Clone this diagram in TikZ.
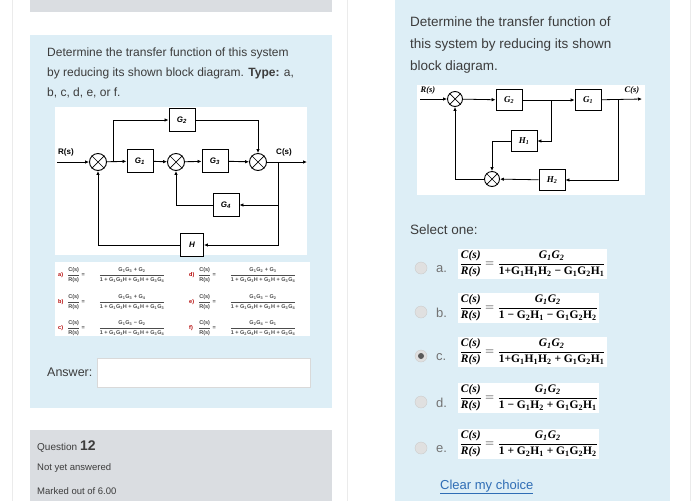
\documentclass[tikz,border=0pt]{standalone}
\usepackage{fontspec}
\setmainfont{Liberation Sans}
\newfontfamily\serf{Liberation Serif}
\usetikzlibrary{arrows.meta}
\definecolor{bluebg}{HTML}{DDEEF6}
\definecolor{graybg}{HTML}{DADDE1}
\definecolor{txt}{HTML}{3C3C3C}
\definecolor{lnk}{HTML}{2F6DB5}
\begin{document}
\begin{tikzpicture}[x=1pt,y=-1pt,
  blk/.style={draw,line width=0.9pt,fill=white,minimum width=26pt,minimum height=23pt,inner sep=0pt,font=\fontsize{8}{8}\selectfont\bfseries\itshape},
  rblk/.style={draw,line width=0.8pt,fill=white,minimum width=26pt,minimum height=21pt,inner sep=0pt,font=\fontsize{9}{9}\selectfont\serf\bfseries\itshape},
  sumj/.style={draw,circle,line width=0.9pt,fill=white,minimum size=#1,inner sep=0pt},
  con/.style={line width=0.9pt,-{Latex[length=4pt,width=3.5pt]}},
  ui/.style={text=txt,anchor=west,inner sep=0pt},
  fr/.style={fill=white,inner sep=1pt,font=\fontsize{5.5}{6}\selectfont\bfseries,text=black!70},
  rf/.style={fill=white,inner sep=1.5pt,anchor=west},
  radio/.style={circle,fill=black!12,draw=black!20,minimum size=12pt,inner sep=0pt}]
\useasboundingbox (0,0) rectangle (700,501);
\fill[white] (0,0) rectangle (700,501);
% left column
\draw[black!8] (12,0)--(12,501) (347,0)--(347,501) (690,0)--(690,501);
\fill[graybg] (30,0) rectangle (332,12);
\fill[bluebg] (30,35) rectangle (332,408);
\fill[graybg] (30,430) rectangle (332,501);
\node[ui,font=\fontsize{12}{14}\selectfont] (t1) at (47,53) {Determine the transfer function of this system};
\node[ui,font=\fontsize{12}{14}\selectfont] (t2) at (47,73) {by reducing its shown block diagram. \textbf{Type:} a,};
\node[ui,font=\fontsize{12}{14}\selectfont] (t3) at (47,93) {b, c, d, e, or f.};
\fill[white] (55,107) rectangle (307,255);
% left diagram
\node[sumj=17pt] (s1) at (98,162) {};
\node[sumj=17pt] (s2) at (176,162) {};
\node[sumj=17pt] (s3) at (258,162) {};
\foreach \s in {s1,s2,s3}{\draw[line width=0.7pt] (\s.north east)--(\s.south west) (\s.north west)--(\s.south east);}
\node[blk] (g1) at (140,161) {G\textsubscript{1}};
\node[blk] (g2) at (182,120) {G\textsubscript{2}};
\node[blk] (g3) at (215,161) {G\textsubscript{3}};
\node[blk] (g4) at (226,205) {G\textsubscript{4}};
\node[blk,minimum width=23pt] (h) at (192,245) {H};
\coordinate (rin) at (57,162);
\coordinate (cout) at (307,162);
\coordinate (b1) at (113,162);
\coordinate (b2) at (278,162);
\node[font=\fontsize{8}{8}\selectfont\bfseries] (rl) at (66,152) {R(s)};
\node[font=\fontsize{8}{8}\selectfont\bfseries] (cl) at (284,152) {C(s)};
\draw[con] (rin)--(s1);
\draw[con] (s1)--(g1);
\draw[con] (g1)--(s2);
\draw[con] (s2)--(g3);
\draw[con] (g3)--(s3);
\draw[con] (s3)--(cout);
\draw[con] (b1)|-(g2);
\draw[con] (g2)-|(s3);
\draw[con] (b2)|-(g4);
\draw[con] (g4)-|(s2);
\draw[con] (b2)|-(h);
\draw[con] (h)-|(s1);
% formulas
\fill[white] (55,262) rectangle (310,336);
\foreach \lab/\x/\y/\num/\den in {
 a/57/275/{G\textsubscript{1}G\textsubscript{3} + G\textsubscript{2}}/{1 + G\textsubscript{1}G\textsubscript{3}H + G\textsubscript{2}H + G\textsubscript{3}G\textsubscript{4}},
 b/57/302/{G\textsubscript{1}G\textsubscript{3} + G\textsubscript{4}}/{1 + G\textsubscript{1}G\textsubscript{3}H + G\textsubscript{4}H + G\textsubscript{1}G\textsubscript{3}},
 c/57/328/{G\textsubscript{1}G\textsubscript{3} − G\textsubscript{2}}/{1 + G\textsubscript{1}G\textsubscript{3}H − G\textsubscript{2}H + G\textsubscript{3}G\textsubscript{4}},
 d/188/275/{G\textsubscript{1}G\textsubscript{2} + G\textsubscript{3}}/{1 + G\textsubscript{1}G\textsubscript{3}H + G\textsubscript{2}H + G\textsubscript{3}G\textsubscript{4}},
 e/188/302/{G\textsubscript{1}G\textsubscript{3} − G\textsubscript{2}}/{1 + G\textsubscript{1}G\textsubscript{3}H + G\textsubscript{2}H + G\textsubscript{3}G\textsubscript{4}},
 f/188/328/{G\textsubscript{2}G\textsubscript{4} − G\textsubscript{1}}/{1 + G\textsubscript{2}G\textsubscript{4}H − G\textsubscript{1}H + G\textsubscript{3}G\textsubscript{4}}}{
 \node[fr,text=red!70!black,anchor=west] (la\lab) at (\x,\y) {\lab)};
 \node[fr] (fa\lab) at (\x+19,\y) {$\displaystyle\frac{\mbox{C(s)}}{\mbox{R(s)}}$ =};
 \node[fr] (fb\lab) at (\x+75,\y) {$\displaystyle\frac{\mbox{\,\num\,}}{\mbox{\den}}$};
}
\node[ui,font=\fontsize{12.5}{14}\selectfont] (ans) at (47,372) {Answer:};
\draw[black!15,fill=white] (97,358) rectangle (310,387);
\node[ui,font=\fontsize{10}{12}\selectfont] (q1) at (37,447) {Question {\fontsize{14}{14}\selectfont\bfseries 12}};
\node[ui,font=\fontsize{9.5}{12}\selectfont] (q2) at (37,468) {Not yet answered};
\node[ui,font=\fontsize{9.5}{12}\selectfont] (q3) at (37,491) {Marked out of 6.00};
% right column
\fill[bluebg] (395,0) rectangle (670,501);
\node[ui,font=\fontsize{13.5}{16}\selectfont] (r1) at (410,22) {Determine the transfer function of};
\node[ui,font=\fontsize{13.5}{16}\selectfont] (r2) at (410,45) {this system by reducing its shown};
\node[ui,font=\fontsize{13.5}{16}\selectfont] (r3) at (410,67) {block diagram.};
\fill[white] (417,85) rectangle (645,195);
\node[sumj=15pt] (q1s) at (455,99) {};
\node[sumj=15pt] (q2s) at (492,179) {};
\foreach \s in {q1s,q2s}{\draw[line width=0.7pt] (\s.north east)--(\s.south west) (\s.north west)--(\s.south east);}
\node[rblk] (rg2) at (509,100) {G\textsubscript{2}};
\node[rblk] (rg1) at (588,100) {G\textsubscript{1}};
\node[rblk] (rh1) at (524,141) {H\textsubscript{1}};
\node[rblk] (rh2) at (552,180) {H\textsubscript{2}};
\coordinate (rrin) at (420,99);
\coordinate (rout) at (642,99);
\coordinate (rb1) at (551,100);
\coordinate (rb2) at (618,100);
\node[font=\fontsize{8.5}{8}\selectfont\serf\bfseries\itshape] (rrl) at (428,90) {R(s)};
\node[font=\fontsize{8.5}{8}\selectfont\serf\bfseries\itshape] (rcl) at (632,90) {C(s)};
\draw[con,line width=0.8pt] (rrin)--(q1s);
\draw[con,line width=0.8pt] (q1s)--(rg2);
\draw[con,line width=0.8pt] (rg2)--(rg1);
\draw[con,line width=0.8pt] (rg1)--(rout);
\draw[con,line width=0.8pt] (rb1)|-(rh1);
\draw[con,line width=0.8pt] (rh1)-|(q2s);
\draw[con,line width=0.8pt] (rb2)|-(rh2);
\draw[con,line width=0.8pt] (rh2)--(q2s);
\draw[con,line width=0.8pt] (q2s)-|(q1s);
\node[ui,font=\fontsize{13.5}{16}\selectfont] (sel) at (410,230) {Select one:};
\foreach \lab/\y/\den in {
 a/264/{1+G\textsubscript{1}H\textsubscript{1}H\textsubscript{2} − G\textsubscript{1}G\textsubscript{2}H\textsubscript{1}},
 b/308/{1 − G\textsubscript{2}H\textsubscript{1} − G\textsubscript{1}G\textsubscript{2}H\textsubscript{2}},
 c/352/{1+G\textsubscript{1}H\textsubscript{1}H\textsubscript{2} + G\textsubscript{1}G\textsubscript{2}H\textsubscript{1}},
 d/398/{1 − G\textsubscript{1}H\textsubscript{2} + G\textsubscript{1}G\textsubscript{2}H\textsubscript{1}},
 e/444/{1 + G\textsubscript{2}H\textsubscript{1} + G\textsubscript{1}G\textsubscript{2}H\textsubscript{2}}}{
 \node[radio] (rad\lab) at (421,\y+4) {};
 \node[ui,font=\fontsize{13}{14}\selectfont,text=black!55] (let\lab) at (436,\y+5) {\lab.};
 \node[rf,font=\fontsize{11.5}{13}\selectfont\serf\bfseries] (opt\lab) at (458,\y) {$\displaystyle\frac{\mbox{\itshape C(s)}}{\mbox{\itshape R(s)}} = \frac{\mbox{\itshape G\textsubscript{1}G\textsubscript{2}}}{\mbox{\den}}$};
}
\fill[black!65] (radc) circle (3pt);
\node[ui,font=\fontsize{13}{14}\selectfont,text=lnk] (clr) at (440,487) {\underline{Clear my choice}};
\end{tikzpicture}
\end{document}
